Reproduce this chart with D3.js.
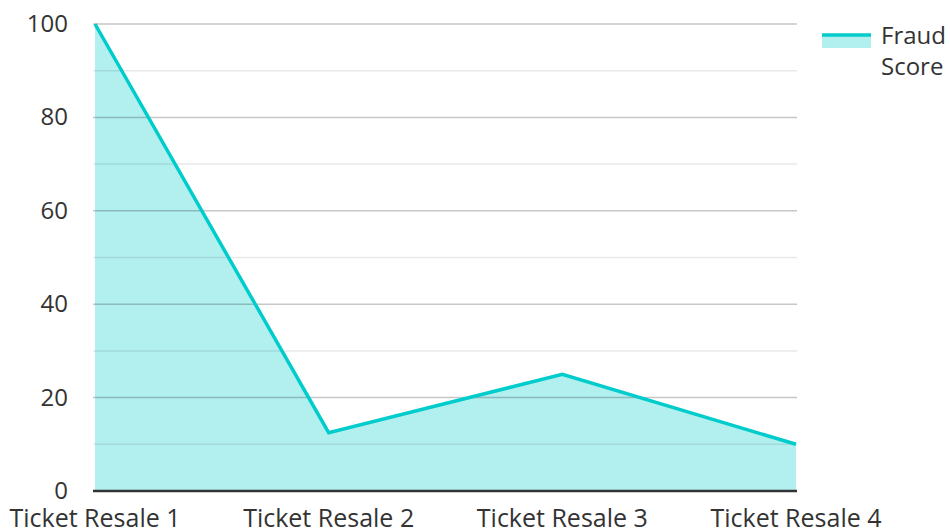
<!DOCTYPE html>
<html>
<head>
<meta charset="utf-8">
<script src="https://cdn.jsdelivr.net/npm/d3@7"></script>
<style>
body { margin: 0; background: #fff; }
text { font-family: "Open Sans", sans-serif; }
</style>
</head>
<body>
<div class="featured"></div>
<script>
var categories = ["Ticket Resale 1", "Ticket Resale 2", "Ticket Resale 3", "Ticket Resale 4"];
var fraudScore = [100, 12.5, 25, 10];
var yTicks = [0, 20, 40, 60, 80, 100];
var minorTicks = [10, 30, 50, 70, 90];
var seriesName = ["Fraud", "Score"];

var width = 950, height = 532;
var plotLeft = 95, plotRight = 797, plotTop = 24, plotBottom = 491;

var svg = d3.select(".featured").append("svg")
	.attr("width", width).attr("height", height);

var x = d3.scalePoint().domain(categories).range([plotLeft, plotRight - 1]);
var y = d3.scaleLinear().domain([0, 100]).range([plotBottom, plotTop]);

var data = categories.map(function(c, i) { return {c: c, v: fraudScore[i]}; });

// fill first, gridlines sit over it
var area = d3.area()
	.x(function(d) { return x(d.c); })
	.y0(y(0))
	.y1(function(d) { return y(d.v); });
svg.append("path").attr("d", area(data)).attr("fill", "#b2efef");

svg.selectAll(".minor").data(minorTicks).enter().append("line")
	.attr("x1", plotLeft - 2).attr("x2", plotRight)
	.attr("y1", function(d) { return y(d); }).attr("y2", function(d) { return y(d); })
	.attr("stroke", "#000").attr("stroke-opacity", 0.09).attr("stroke-width", 1.5);

svg.selectAll(".major").data(yTicks.slice(1)).enter().append("line")
	.attr("x1", plotLeft - 2).attr("x2", plotRight)
	.attr("y1", function(d) { return y(d); }).attr("y2", function(d) { return y(d); })
	.attr("stroke", "#000").attr("stroke-opacity", 0.22).attr("stroke-width", 1.5);

var line = d3.line()
	.x(function(d) { return x(d.c); })
	.y(function(d) { return y(d.v); });
svg.append("path").attr("d", line(data))
	.attr("stroke", "#00cccc").attr("stroke-width", 3.5).attr("fill", "none")
	.attr("stroke-linejoin", "miter");

// baseline
svg.append("line").attr("x1", plotLeft - 2).attr("x2", plotRight)
	.attr("y1", y(0)).attr("y2", y(0))
	.attr("stroke", "#333").attr("stroke-width", 2.5);

svg.selectAll(".ylab").data(yTicks).enter().append("text")
	.attr("x", 68).attr("y", function(d) { return y(d) + 8; })
	.attr("text-anchor", "end").attr("font-size", 24).attr("fill", "#333")
	.text(function(d) { return d; });

svg.selectAll(".xlab").data(categories).enter().append("text")
	.attr("x", function(d) { return x(d); }).attr("y", 527)
	.attr("text-anchor", "middle").attr("font-size", 25).attr("fill", "#333")
	.text(function(d) { return d; });

// legend
svg.append("rect").attr("x", 822).attr("y", 35).attr("width", 49).attr("height", 13).attr("fill", "#b2efef");
svg.append("line").attr("x1", 822).attr("x2", 871).attr("y1", 35).attr("y2", 35)
	.attr("stroke", "#00cccc").attr("stroke-width", 3.5);
svg.selectAll(".leg").data(seriesName).enter().append("text")
	.attr("x", 881).attr("y", function(d, i) { return 44 + i * 31; })
	.attr("font-size", 24).attr("fill", "#333")
	.text(function(d) { return d; });
</script>
</body>
</html>
